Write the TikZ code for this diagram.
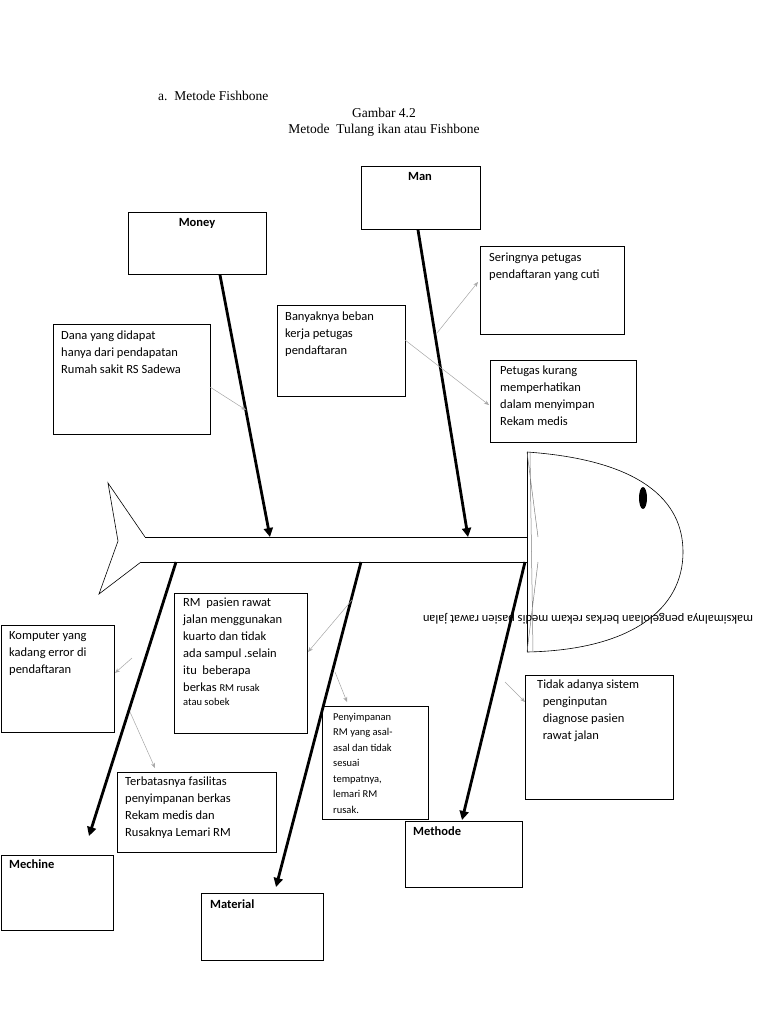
\documentclass[tikz,border=0pt]{standalone}
\usepackage{fontspec}
\setmainfont{Carlito}
\newfontfamily\serif{Liberation Serif}
\usetikzlibrary{arrows.meta}
\begin{document}
\begin{tikzpicture}[x=1pt,y=-1pt,
  box/.style={draw,line width=0.8pt},
  txt/.style={anchor=north west,align=left,font=\fontsize{12.5}{17}\selectfont,inner sep=0pt},
  lbl/.style={anchor=north,font=\bfseries\fontsize{12.5}{14}\selectfont,inner sep=0pt},
  bone/.style={line width=2.8pt,-{Triangle[length=9pt,width=9pt]}},
  thin/.style={draw=gray!70,line width=0.5pt,-{Stealth[length=5pt,width=4pt]}}]
\useasboundingbox (0,0) rectangle (768,1024);
\clip (0,0) rectangle (768,1024);
% titles
\node[anchor=west,font=\serif\fontsize{13.5}{15}\selectfont,inner sep=0pt] (t1) at (158,96) {a.\ \ Metode Fishbone};
\node[font=\serif\fontsize{13.5}{15}\selectfont,inner sep=0pt] (t2) at (384,113) {Gambar 4.2};
\node[font=\serif\fontsize{13.5}{15}\selectfont,inner sep=0pt] (t3) at (384,130) {Metode\ \ Tulang ikan atau Fishbone};
% fish
\draw[line width=0.6pt] (145,537) -- (108,483) -- (118,541) -- (99,594) -- (141,562);
\draw[line width=0.8pt] (145,537) -- (527,537);
\draw[line width=0.8pt] (141,562) -- (527,562);
\draw[line width=0.6pt] (527,452) -- (527,652);
\draw[line width=0.6pt] (527,452) .. controls (640,460) and (683,500) .. (683,552) .. controls (683,610) and (630,650) .. (527,652);
\draw[gray,line width=0.5pt] (527,452) -- (538,537) (527,652) -- (538,562) (530,452) -- (533,652);
\fill (643,498) ellipse (4pt and 11pt);
\node[rotate=180,font=\fontsize{12.5}{14}\selectfont,inner sep=0pt] (ht) at (588,619) {maksimalnya pengelolaan berkas rekam medis pasien rawat jalan};
% boxes
\draw[box] (128,212) rectangle (266,274); \node[lbl] (money) at (197,218) {Money};
\draw[box] (361,166) rectangle (480,229); \node[lbl] (man) at (420,172) {Man};
\draw[box] (480,246) rectangle (624,334); \node[txt] (s) at (489,253) {Seringnya petugas\\pendaftaran yang cuti};
\draw[box] (277,305) rectangle (405,396); \node[txt] (b) at (285,312) {Banyaknya beban\\kerja petugas\\pendaftaran};
\draw[box] (53,324) rectangle (210,434); \node[txt] (d) at (61,331) {Dana yang didapat\\hanya dari pendapatan\\Rumah sakit RS Sadewa};
\draw[box] (490,360) rectangle (636,442); \node[txt] (p) at (500,366) {Petugas kurang\\memperhatikan\\dalam menyimpan\\Rekam medis};
\draw[box] (174,593) rectangle (307,733); \node[txt] (rm) at (183,598) {RM\ \ pasien rawat\\jalan menggunakan\\kuarto dan tidak\\ada sampul .selain\\itu\ \ beberapa\\berkas {\fontsize{10.5}{12}\selectfont RM rusak}\\[-3pt]{\fontsize{10.5}{12}\selectfont atau sobek}};
\draw[box] (1,625) rectangle (114,732); \node[txt] (k) at (9,631) {Komputer yang\\kadang error di\\pendaftaran};
\draw[box] (525,675) rectangle (673,799); \node[txt] (ti) at (537,680) {Tidak adanya sistem\\\ \ penginputan\\\ \ diagnose pasien\\\ \ rawat jalan};
\draw[box] (322,706) rectangle (428,819); \node[txt,font=\fontsize{10.5}{15.5}\selectfont] (py) at (333,713) {Penyimpanan\\RM yang asal-\\asal dan tidak\\sesuai\\tempatnya,\\lemari RM\\rusak.};
\draw[box] (117,772) rectangle (276,852); \node[txt] (te) at (125,777) {Terbatasnya fasilitas\\penyimpanan berkas\\Rekam medis dan\\Rusaknya Lemari RM};
\draw[box] (405,821) rectangle (522,887); \node[lbl,anchor=north west] (me) at (413,827) {Methode};
\draw[box] (1,855) rectangle (113,930); \node[lbl,anchor=north west] (mc) at (9,860) {Mechine};
\draw[box] (201,893) rectangle (323,960); \node[lbl,anchor=north west] (ma) at (210,900) {Material};
% main bones
\coordinate (m1) at (220,275); \coordinate (m2) at (270,537);
\coordinate (n1) at (418,230); \coordinate (n2) at (468,537);
\coordinate (c1) at (176,562); \coordinate (c2) at (89,836);
\coordinate (a1) at (361,562); \coordinate (a2) at (276,887);
\coordinate (e1) at (525,562); \coordinate (e2) at (462,820);
\draw[bone] (m1) -- (m2);
\draw[bone] (n1) -- (n2);
\draw[bone] (c1) -- (c2);
\draw[bone] (a1) -- (a2);
\draw[bone] (e1) -- (e2);
% thin connectors
\coordinate (x1) at (210,387); \coordinate (x2) at (246,410);
\draw[thin] (x1) -- (x2);
\coordinate (y1) at (437,333); \coordinate (y2) at (478,282);
\draw[thin] (y1) -- (y2);
\coordinate (z1) at (405,340); \coordinate (z2) at (489,405);
\draw[thin] (z1) -- (z2);
\coordinate (k1) at (132,658); \coordinate (k2) at (115,673);
\draw[thin] (k1) -- (k2);
\coordinate (t1a) at (130,712); \coordinate (t2a) at (155,768);
\draw[thin] (t1a) -- (t2a);
\coordinate (r1) at (352,600); \coordinate (r2) at (308,652);
\draw[thin] (r1) -- (r2);
\coordinate (q1) at (335,672); \coordinate (q2) at (347,702);
\draw[thin] (q1) -- (q2);
\coordinate (w1) at (505,682); \coordinate (w2) at (525,702);
\draw[thin] (w1) -- (w2);
\end{tikzpicture}
\end{document}
